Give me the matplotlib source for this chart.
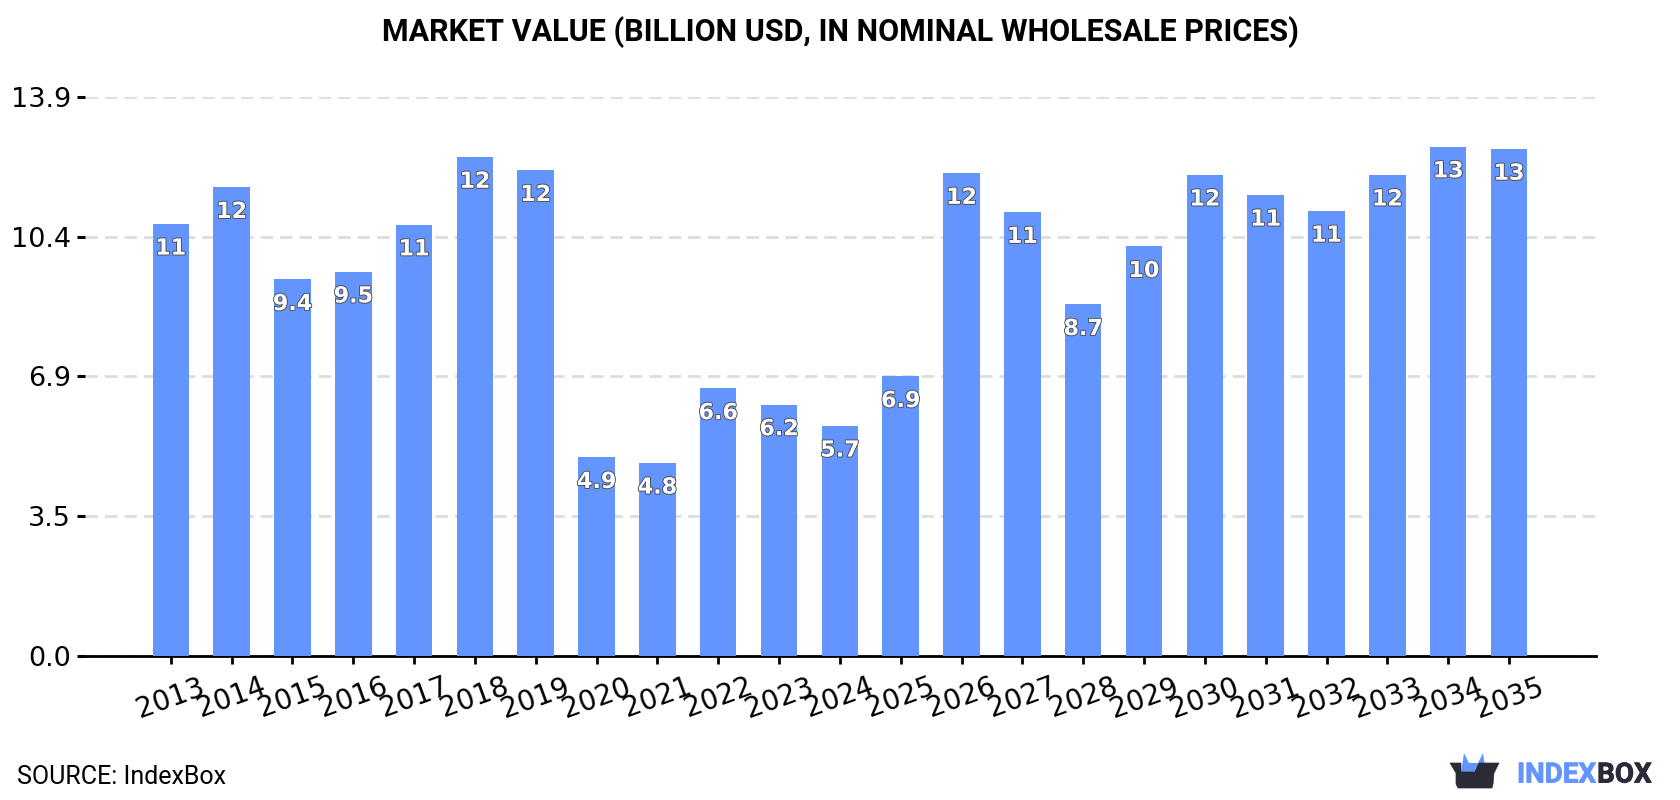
import matplotlib
matplotlib.use("Agg")
import matplotlib.pyplot as plt
import matplotlib.patheffects as pe
from matplotlib.patches import Polygon

years = [str(y) for y in range(2013, 2036)]
values = [10.74, 11.65, 9.36, 9.549, 10.72, 12.4, 12.07, 4.94, 4.8, 6.649, 6.249, 5.72,
          6.949, 12.0, 11.03, 8.74, 10.18, 11.96, 11.46, 11.06, 11.96, 12.66, 12.6]
y_ticks = [0.0, 3.475, 6.95, 10.425, 13.9]
y_tick_labels = ["0.0", "3.5", "6.9", "10.4", "13.9"]

BLUE = "#6495ff"
DARK = "#2a2b36"

W, H = 1680, 800
fig = plt.figure(figsize=(W / 100, H / 100), dpi=100, facecolor="white")
ax = fig.add_axes([85 / W, 1 - 656 / H, (1596 - 85) / W, (656 - 96.7) / H])

positions = list(range(len(years)))
ax.bar(positions, values, width=0.6, color=BLUE, zorder=3)

ax.set_xlim(-1.41, 22 + 1.43)
ax.set_ylim(0, 13.9)
ax.set_xticks(positions)
ax.set_xticklabels(years, rotation=20, ha="center", fontsize=20, family="DejaVu Sans")
ax.set_yticks(y_ticks)
ax.set_yticklabels(y_tick_labels, fontsize=19.5, family="DejaVu Sans")
ax.tick_params(axis="x", length=6, width=2, pad=6, color="black")
ax.tick_params(axis="y", length=5.8, width=2.2, pad=4.3, color="black")

ax.grid(axis="y", color="#dddddd", linewidth=2, linestyle=(0, (4.5, 2.5)), zorder=0)
ax.set_axisbelow(True)
for side in ("top", "right", "left"):
    ax.spines[side].set_visible(False)
ax.spines["bottom"].set_linewidth(2)
ax.spines["bottom"].set_color("black")

# Value labels sit just inside the top of each bar
for x, v in zip(positions, values):
    ax.annotate(f"{v:.2g}", (x, v), xytext=(0, -17.8), textcoords="offset points",
                ha="center", va="center", fontsize=16, fontweight="bold",
                family="DejaVu Sans", color="white", zorder=5,
                path_effects=[pe.withStroke(linewidth=1.3, foreground="#4a4a4a")])

fig.text(0.5, 1 - 32 / H, "MARKET VALUE (BILLION USD, IN NOMINAL WHOLESALE PRICES)",
         ha="center", va="center", fontsize=22, fontweight="bold", family="Roboto", color="black")
fig.text(17 / W, 1 - 777 / H, "SOURCE: IndexBox", ha="left", va="center",
         fontsize=18, family="Roboto", color="black")

# Brand mark: an open box with a blue crown, drawn in pixel coordinates
logo = fig.add_axes([0, 0, 1, 1], facecolor="none")
logo.set_xlim(0, W)
logo.set_ylim(H, 0)
logo.axis("off")
logo.add_patch(Polygon([[1461, 773], [1464, 753], [1469, 763], [1478, 763], [1483, 753],
                       [1486, 773], [1478, 772], [1472, 782], [1461, 782]],
                       closed=True, facecolor=BLUE, edgecolor="none"))
logo.add_patch(Polygon([[1450, 763], [1461, 763], [1461, 772], [1475, 772], [1479, 763],
                       [1499, 763], [1494, 773], [1493, 784], [1492, 788], [1458, 788], [1456, 784],
                       [1456, 773]],
                       closed=True, facecolor=DARK, edgecolor=DARK, linewidth=0.5, joinstyle="round"))
t1 = logo.text(1517, 775, "INDEX", ha="left", va="center", fontsize=20, fontweight="bold",
               family="Roboto", color=BLUE,
               path_effects=[pe.withStroke(linewidth=0.6, foreground=BLUE)])
fig.canvas.draw()
bb = t1.get_window_extent()
logo.text(bb.x1 + 1, 775, "BOX", ha="left", va="center", fontsize=20, fontweight="bold",
          family="Roboto", color=DARK,
          path_effects=[pe.withStroke(linewidth=0.6, foreground=DARK)])

fig.savefig("out.png", dpi=100, facecolor="white")
